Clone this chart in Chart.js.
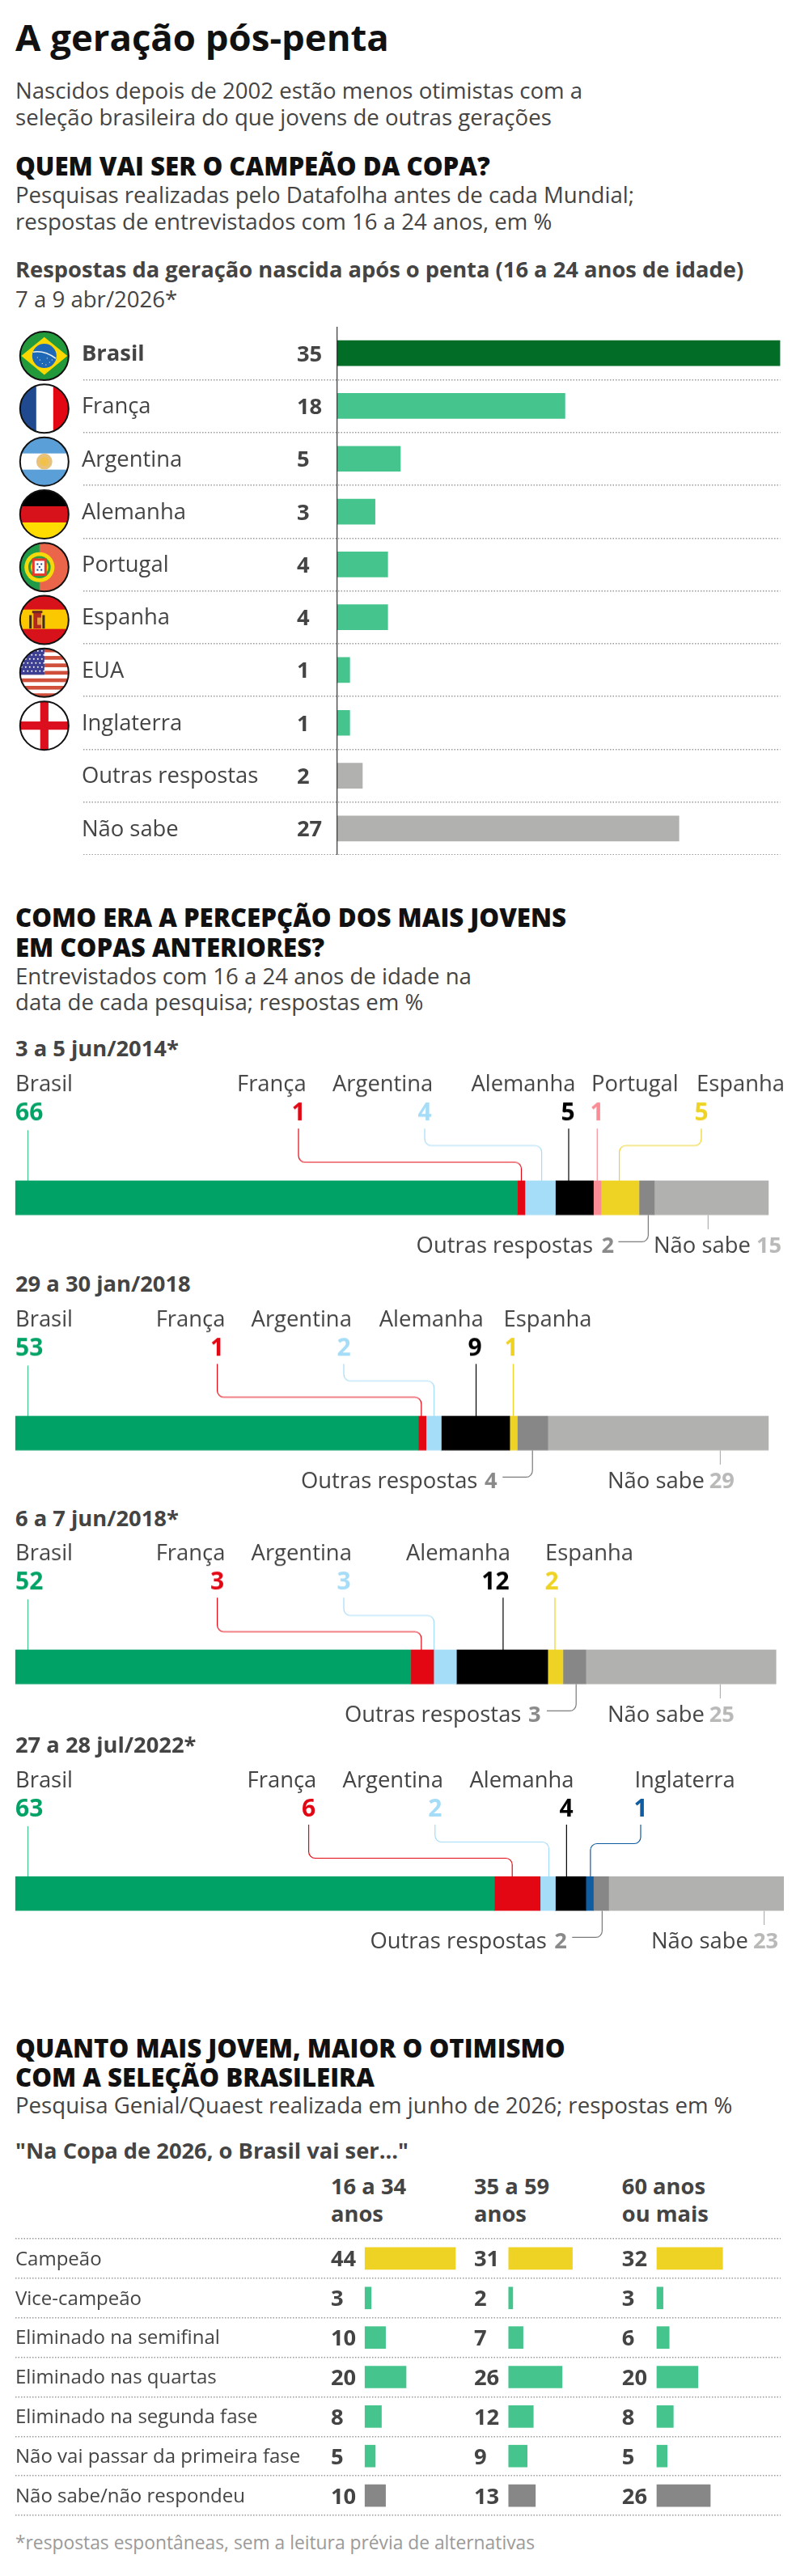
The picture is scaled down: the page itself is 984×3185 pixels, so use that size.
<!DOCTYPE html>
<html lang="pt-BR">
<head>
<meta charset="utf-8">
<title>A geração pós-penta</title>
<script src="https://cdn.jsdelivr.net/npm/chart.js@4"></script>
<style>
  html, body { margin: 0; padding: 0; background: #fff; }
  body { position: relative; width: 984px; height: 3185px; overflow: hidden; font-family: "Open Sans", sans-serif; }
  .t { position: absolute; left: 19px; white-space: nowrap; line-height: 1; color: #444; }
  .title { font-size: 45.5px; font-weight: 700; color: #111; }
  .lead { font-size: 27.6px; font-weight: 400; }
  .head { font-size: 31.2px; font-weight: 800; color: #111; }
  .sub { font-size: 27.6px; font-weight: 400; }
  .bold { font-size: 27.3px; font-weight: 700; }
  .foot { font-size: 22.8px; color: #9a9a9a; }
  canvas { position: absolute; left: 0; }
</style>
</head>
<body>
<script>
  const FONT = '"Open Sans", sans-serif';

  // Quem vai ser o campeão, 7 a 9 abr/2026
  const paises = ['Brasil', 'França', 'Argentina', 'Alemanha', 'Portugal', 'Espanha', 'EUA', 'Inglaterra', 'Outras respostas', 'Não sabe'];
  const campeao2026 = [35, 18, 5, 3, 4, 4, 1, 1, 2, 27];

  // Pesquisas anteriores
  const datas = ['3 a 5 jun/2014*', '29 a 30 jan/2018', '6 a 7 jun/2018*', '27 a 28 jul/2022*'];
  const nomes2014 = ['Brasil', 'França', 'Argentina', 'Alemanha', 'Portugal', 'Espanha', 'Outras respostas', 'Não sabe'];
  const valores2014 = [66, 1, 4, 5, 1, 5, 2, 15];
  const nomesJan2018 = ['Brasil', 'França', 'Argentina', 'Alemanha', 'Espanha', 'Outras respostas', 'Não sabe'];
  const valoresJan2018 = [53, 1, 2, 9, 1, 4, 29];
  const nomesJun2018 = ['Brasil', 'França', 'Argentina', 'Alemanha', 'Espanha', 'Outras respostas', 'Não sabe'];
  const valoresJun2018 = [52, 3, 3, 12, 2, 3, 25];
  const nomes2022 = ['Brasil', 'França', 'Argentina', 'Alemanha', 'Inglaterra', 'Outras respostas', 'Não sabe'];
  const valores2022 = [63, 6, 2, 4, 1, 2, 23];

  // Genial/Quaest, junho de 2026
  const fases = ['Campeão', 'Vice-campeão', 'Eliminado na semifinal', 'Eliminado nas quartas', 'Eliminado na segunda fase', 'Não vai passar da primeira fase', 'Não sabe/não respondeu'];
  const idade16a34 = [44, 3, 10, 20, 8, 5, 10];
  const idade35a59 = [31, 2, 7, 26, 12, 9, 13];
  const idade60mais = [32, 3, 6, 20, 8, 5, 26];

  const COR = {
    'Brasil': '#00a266', 'França': '#e30613', 'Argentina': '#a5dcf7', 'Alemanha': '#000000',
    'Portugal': '#f98c95', 'Espanha': '#efd324', 'Inglaterra': '#0f5ca0',
    'Outras respostas': '#878787', 'Não sabe': '#b1b1b0'
  };
  const COR_NUM = { ...COR, 'Outras respostas': '#8a8a8a', 'Não sabe': '#b9b9b8' };
  const VERDE_ESCURO = '#026d27', VERDE_CLARO = '#45c58d', CINZA = '#b1b1b0', CINZA_ESCURO = '#878787', AMARELO = '#efd324';
  const TEXTO = '#444444';
  const PONTILHADO = '#9c9c9c';

  function addText(cls, str, baseline, left) {
    const el = document.createElement('div');
    el.className = 't ' + cls;
    el.textContent = str;
    document.body.appendChild(el);
    // com line-height 1 a linha de base do Open Sans fica a .888 em do topo da caixa
    const fs = parseFloat(getComputedStyle(el).fontSize);
    el.style.top = (baseline - fs * 0.888) + 'px';
    if (left !== undefined) el.style.left = left + 'px';
    return el;
  }

  function addCanvas(top, height) {
    const wrap = document.createElement('div');
    wrap.style.cssText = `position:absolute;left:0;top:${top}px;width:984px;height:${height}px`;
    const c = document.createElement('canvas');
    wrap.appendChild(c);
    document.body.appendChild(wrap);
    return c.getContext('2d');
  }

  // os rótulos espelhados ficam dentro da área, então o eixo não precisa de folga
  function semFolga(scale) {
    scale.paddingTop = 0;
    scale.paddingBottom = 0;
  }

  addText('title', 'A geração pós-penta', 63.6);
  addText('lead', 'Nascidos depois de 2002 estão menos otimistas com a', 123);
  addText('lead', 'seleção brasileira do que jovens de outras gerações', 156);
  addText('head', 'QUEM VAI SER O CAMPEÃO DA COPA?', 218);
  addText('sub', 'Pesquisas realizadas pelo Datafolha antes de cada Mundial;', 252);
  addText('sub', 'respostas de entrevistados com 16 a 24 anos, em %', 285);
  addText('bold', 'Respostas da geração nascida após o penta (16 a 24 anos de idade)', 343);
  addText('sub', '7 a 9 abr/2026*', 381);
  addText('head', 'COMO ERA A PERCEPÇÃO DOS MAIS JOVENS', 1147);
  addText('head', 'EM COPAS ANTERIORES?', 1184);
  addText('sub', 'Entrevistados com 16 a 24 anos de idade na', 1217.6);
  addText('sub', 'data de cada pesquisa; respostas em %', 1250);
  addText('head', 'QUANTO MAIS JOVEM, MAIOR O OTIMISMO', 2544.3);
  addText('head', 'COM A SELEÇÃO BRASILEIRA', 2581);
  addText('sub', 'Pesquisa Genial/Quaest realizada em junho de 2026; respostas em %', 2614);
  addText('bold', '"Na Copa de 2026, o Brasil vai ser..."', 2669.7);
  addText('bold', '16 a 34', 2713, 409);
  addText('bold', 'anos', 2747, 409);
  addText('bold', '35 a 59', 2713, 586);
  addText('bold', 'anos', 2747, 586);
  addText('bold', '60 anos', 2713, 768.8);
  addText('bold', 'ou mais', 2747, 768.8);
  addText('foot', '*respostas espontâneas, sem a leitura prévia de alternativas', 3153.6);

  // Bandeiras redondas, desenhadas com canvas
  function flagBrasil(c, r) {
    c.fillStyle = '#229a3c'; c.fillRect(-r, -r, 2 * r, 2 * r);
    c.fillStyle = '#fbd800'; c.beginPath(); c.moveTo(0, -r * .78); c.lineTo(r * .95, 0); c.lineTo(0, r * .78); c.lineTo(-r * .95, 0); c.fill();
    c.fillStyle = '#1f68b5'; c.beginPath(); c.arc(0, 0, r * .5, 0, 7); c.fill();
    c.strokeStyle = '#e8f0f4'; c.lineWidth = 1.6;
    c.beginPath(); c.moveTo(-r * .47, -r * .16); c.quadraticCurveTo(0, -r * .24, r * .47, r * .1); c.stroke();
    c.fillStyle = '#fff';
    [[-.2, .15], [-.1, .3], [.1, .08], [.2, .25], [.05, .35], [.3, .15], [-.3, .05]].forEach(([a, b]) => c.fillRect(a * r, b * r, 1, 1));
  }
  function flagFranca(c, r) {
    c.fillStyle = '#1f4a8f'; c.fillRect(-r, -r, 2 * r / 3 + 1, 2 * r);
    c.fillStyle = '#fff'; c.fillRect(-r / 3, -r, 2 * r / 3 + 1, 2 * r);
    c.fillStyle = '#e30613'; c.fillRect(r / 3 + 1, -r, 2 * r / 3, 2 * r);
  }
  function flagArgentina(c, r) {
    c.fillStyle = '#5a9fd8'; c.fillRect(-r, -r, 2 * r, 2 * r);
    c.fillStyle = '#fff'; c.fillRect(-r, -r / 3, 2 * r, 2 * r / 3);
    c.fillStyle = '#e8c27a'; c.beginPath(); c.arc(0, 0, r * .33, 0, 7); c.fill();
    c.fillStyle = '#f2c14a'; c.beginPath(); c.arc(0, 0, r * .18, 0, 7); c.fill();
  }
  function flagAlemanha(c, r) {
    c.fillStyle = '#000'; c.fillRect(-r, -r, 2 * r, 2 * r / 3 + 1);
    c.fillStyle = '#d8121a'; c.fillRect(-r, -r / 3, 2 * r, 2 * r / 3 + 1);
    c.fillStyle = '#ffdc00'; c.fillRect(-r, r / 3, 2 * r, 2 * r / 3);
  }
  function flagPortugal(c, r) {
    c.fillStyle = '#ea6549'; c.fillRect(-r, -r, 2 * r, 2 * r);
    c.fillStyle = '#1f9a47'; c.fillRect(-r, -r, r * .8, 2 * r);
    c.fillStyle = '#f5d90a'; c.beginPath(); c.arc(-r * .2, 0, r * .62, 0, 7); c.fill();
    c.fillStyle = '#2a9a45'; c.beginPath(); c.arc(-r * .2, 0, r * .46, 0, 7); c.fill();
    c.fillStyle = '#f5d90a'; c.beginPath(); c.arc(-r * .2, 0, r * .36, 0, 7); c.fill();
    c.fillStyle = '#e5392a'; c.fillRect(-r * .5, -r * .36, r * .6, r * .72);
    c.fillStyle = '#fff'; c.fillRect(-r * .4, -r * .26, r * .4, r * .52);
    c.fillStyle = '#1f4a8f';
    [[-.28, -.16], [-.12, -.16], [-.2, -.04], [-.28, .08], [-.12, .08]].forEach(([a, b]) => c.fillRect(a * r - 1, b * r, 2, 2));
  }
  function flagEspanha(c, r) {
    c.fillStyle = '#d8121a'; c.fillRect(-r, -r, 2 * r, 2 * r);
    c.fillStyle = '#fbc800'; c.fillRect(-r, -r * .43, 2 * r, r * .8);
    c.fillStyle = '#3d2a1c'; c.fillRect(-r * .62, -r * .2, r * .1, r * .55); c.fillRect(-r * .08, -r * .2, r * .1, r * .55);
    c.fillStyle = '#b3281e'; c.fillRect(-r * .45, -r * .3, r * .32, r * .65);
    c.fillStyle = '#e8a13a'; c.fillRect(-r * .29, -r * .1, r * .16, r * .3);
    c.fillStyle = '#6a2a20'; c.fillRect(-r * .5, -r * .38, r * .42, r * .1);
  }
  function flagEua(c, r) {
    c.fillStyle = '#fff'; c.fillRect(-r, -r, 2 * r, 2 * r);
    c.fillStyle = '#d0503c';
    for (let i = 0; i < 7; i++) c.fillRect(-r, -r + i * 4 * r / 13, 2 * r, 2 * r / 13);
    c.fillStyle = '#3d3f92'; c.fillRect(-r, -r, r, r * 1.08);
    c.fillStyle = '#fff';
    for (let l = 0; l < 6; l++) {
      for (let k = 0; k < 6; k++) {
        c.beginPath();
        c.arc(-r + (k + (l % 2 ? .9 : .4)) * r / 6, -r + (l + .6) * r / 6, 1, 0, 7);
        c.fill();
      }
    }
  }
  function flagInglaterra(c, r) {
    c.fillStyle = '#fff'; c.fillRect(-r, -r, 2 * r, 2 * r);
    c.fillStyle = '#dc0f1e';
    c.fillRect(-r * .17, -r, r * .34, 2 * r);
    c.fillRect(-r, -r * .17, 2 * r, r * .34);
  }
  const bandeiras = [flagBrasil, flagFranca, flagArgentina, flagAlemanha, flagPortugal, flagEspanha, flagEua, flagInglaterra];

  const bandeirasPlugin = {
    id: 'bandeiras',
    afterDraw(chart) {
      const { ctx, scales: { x, y }, chartArea } = chart;
      // eixo vertical no zero
      ctx.save();
      ctx.strokeStyle = '#333';
      ctx.lineWidth = 1.2;
      ctx.beginPath();
      ctx.moveTo(x.getPixelForValue(0), chartArea.top);
      ctx.lineTo(x.getPixelForValue(0), chartArea.bottom);
      ctx.stroke();
      // valores e bandeiras de cada linha
      paises.forEach((nome, i) => {
        const cy = y.getPixelForValue(i);
        ctx.font = `700 27.3px ${FONT}`;
        ctx.fillStyle = TEXTO;
        ctx.textBaseline = 'alphabetic';
        ctx.fillText(campeao2026[i], 367, cy + 10);
        if (bandeiras[i]) {
          ctx.save();
          ctx.translate(54.8, cy + 3.4);
          ctx.beginPath();
          ctx.arc(0, 0, 30, 0, Math.PI * 2);
          ctx.clip();
          bandeiras[i](ctx, 30);
          ctx.restore();
          ctx.beginPath();
          ctx.arc(54.8, cy + 3.4, 30, 0, Math.PI * 2);
          ctx.lineWidth = 2;
          ctx.strokeStyle = '#111';
          ctx.stroke();
        }
      });
      ctx.restore();
    }
  };

  new Chart(addCanvas(404, 653), {
    type: 'bar',
    plugins: [bandeirasPlugin],
    data: {
      labels: paises,
      datasets: [{
        data: campeao2026,
        barThickness: 31,
        backgroundColor: paises.map((p, i) => i === 0 ? VERDE_ESCURO : i >= 8 ? CINZA : VERDE_CLARO)
      }]
    },
    options: {
      indexAxis: 'y',
      animation: false,
      responsive: true,
      maintainAspectRatio: false,
      layout: { autoPadding: false, padding: { left: 103, right: 19.5 } },
      plugins: { legend: { display: false }, tooltip: { enabled: false } },
      scales: {
        x: { display: false, min: -20.04, max: 35 },
        y: {
          afterFit: semFolga,
          border: { display: false, dash: [1.5, 2] },
          grid: {
            offset: true,
            drawTicks: false,
            lineWidth: 1.4,
            color: ctx => (ctx.index === 0 || ctx.index === paises.length) ? 'transparent' : PONTILHADO
          },
          ticks: {
            mirror: true,
            padding: -0.7,
            labelOffset: 1.5,
            color: TEXTO,
            font: ctx => ({ family: FONT, size: 27.4, weight: ctx.index === 0 ? '700' : '400' })
          }
        }
      }
    }
  });

  // Posições de rótulos e linhas-guia de cada pesquisa
  // n: x do nome, v: x do número, a: ancoragem dentro do segmento, e: altura do cotovelo, to: fim da guia inferior
  const guiasPesquisa = [
    { top: 1459, itens: [
      { n: 19, v: 19, a: 1.67 },
      { n: 293, v: 369, a: .53, e: -22.5 },
      { n: 411, v: 525, a: 2.2, e: -43 },
      { n: 582.4, v: 702, a: 1.75 },
      { n: 731, v: 738, a: .5 },
      { n: 861, v: 867, a: 2.41, e: -43 },
      { n: 514.6, v: 743.6, a: 1.21, to: 764.4 },
      { n: 808, v: 935, a: 7.08 }
    ] },
    { top: 1750, itens: [
      { n: 19, v: 19, a: 1.67 },
      { n: 192.7, v: 268.6, a: .38, e: -23 },
      { n: 310.6, v: 425, a: 1.05, e: -43 },
      { n: 468.8, v: 587, a: 4.58 },
      { n: 622.5, v: 632, a: .46 },
      { n: 372, v: 599, a: 1.99, to: 621.3 },
      { n: 751, v: 876.7, a: 22.68 }
    ] },
    { top: 2039.4, itens: [
      { n: 19, v: 19, a: 1.67 },
      { n: 192.7, v: 268.6, a: 1.38, e: -22 },
      { n: 310.6, v: 425, a: .05, e: -42 },
      { n: 502, v: 612.5, a: 6.13 },
      { n: 674, v: 682, a: .94 },
      { n: 426, v: 653, a: 1.73, to: 675.9 },
      { n: 751, v: 876.7, a: 17.68 }
    ] },
    { top: 2319.7, itens: [
      { n: 19, v: 19, a: 1.67 },
      { n: 305.6, v: 381.6, a: 2.33, e: -22.5 },
      { n: 423.6, v: 537.8, a: 1.14, e: -42.5 },
      { n: 580.5, v: 700, a: 1.47 },
      { n: 784.4, v: 792, a: .61, e: -40.5 },
      { n: 457.5, v: 685.3, a: 1.15, to: 707.3 },
      { n: 805, v: 931, a: 20.44 }
    ] }
  ];

  const LINHA_TOPO = -64;
  const CANVAS_ACIMA = 140, CANVAS_ABAIXO = 60, BARRA_ALT = 42.6;

  const guiasPlugin = {
    id: 'guias',
    afterDraw(chart, args, opts) {
      const { ctx, scales: { x } } = chart;
      const top = chart.chartArea.top;
      const { nomes, valores, itens } = opts;
      let acum = 0;
      ctx.save();
      ctx.textBaseline = 'alphabetic';
      nomes.forEach((nome, i) => {
        const it = itens[i];
        const ax = x.getPixelForValue(acum + it.a);
        acum += valores[i];
        const embaixo = nome === 'Outras respostas' || nome === 'Não sabe';
        ctx.lineWidth = 1.2;
        ctx.strokeStyle = nome === 'Brasil' ? VERDE_CLARO : nome === 'Outras respostas' ? '#7a7a7a' : COR[nome];
        ctx.beginPath();
        if (embaixo) {
          const y0 = top + BARRA_ALT;
          if (it.to) {
            const r = 8, yy = top + 75.4;
            ctx.moveTo(ax, y0);
            ctx.arcTo(ax, yy, it.to, yy, r);
            ctx.lineTo(it.to, yy);
          } else {
            ctx.moveTo(ax, y0);
            ctx.lineTo(ax, top + 60);
          }
          ctx.stroke();
          ctx.font = `400 27.4px ${FONT}`;
          ctx.fillStyle = TEXTO;
          ctx.fillText(nome, it.n, top + 89);
          ctx.font = `700 27.3px ${FONT}`;
          ctx.fillStyle = COR_NUM[nome];
          ctx.fillText(valores[i], it.v, top + 89);
        } else {
          const y0 = top + LINHA_TOPO;
          if (it.e !== undefined) {
            const r = 8, yy = top + it.e;
            ctx.moveTo(it.v, y0);
            ctx.arcTo(it.v, yy, ax, yy, r);
            ctx.arcTo(ax, yy, ax, top, r);
            ctx.lineTo(ax, top);
          } else {
            ctx.moveTo(ax, nome === 'Brasil' ? y0 + 2 : y0);
            ctx.lineTo(ax, top);
          }
          ctx.stroke();
          ctx.font = `400 27.4px ${FONT}`;
          ctx.fillStyle = TEXTO;
          ctx.textAlign = 'left';
          ctx.fillText(nome, it.n, top - 110);
          ctx.font = `700 30px ${FONT}`;
          ctx.fillStyle = COR[nome];
          ctx.textAlign = nome === 'Brasil' ? 'left' : 'center';
          ctx.fillText(valores[i], it.v, top - 74.5);
          ctx.textAlign = 'left';
        }
      });
      ctx.restore();
    }
  };

  [[nomes2014, valores2014], [nomesJan2018, valoresJan2018], [nomesJun2018, valoresJun2018], [nomes2022, valores2022]].forEach(([nomes, valores], i) => {
    const g = guiasPesquisa[i];
    addText('bold', datas[i], g.top - 152.6);
    new Chart(addCanvas(g.top - CANVAS_ACIMA, CANVAS_ACIMA + BARRA_ALT + CANVAS_ABAIXO), {
      type: 'bar',
      plugins: [guiasPlugin],
      data: {
        labels: [datas[i]],
        datasets: nomes.map((nome, j) => ({
          label: nome,
          data: [valores[j]],
          backgroundColor: COR[nome],
          barThickness: BARRA_ALT
        }))
      },
      options: {
        indexAxis: 'y',
        animation: false,
        responsive: true,
        maintainAspectRatio: false,
        layout: { padding: { left: 18.8, right: 0, top: CANVAS_ACIMA, bottom: CANVAS_ABAIXO } },
        plugins: {
          legend: { display: false },
          tooltip: { enabled: false },
          guias: { nomes, valores, itens: g.itens }
        },
        scales: {
          x: { display: false, stacked: true, min: 0, max: 102.63 },
          y: { display: false, stacked: true }
        }
      }
    });
  });

  // Tabela por faixa etária: três eixos x sobre a mesma área
  const PX_POR_PONTO = 2.54;
  const colunas = [
    { id: 'x1', dados: idade16a34, rotulo: 409, zero: 451.2 },
    { id: 'x2', dados: idade35a59, rotulo: 586, zero: 628.8 },
    { id: 'x3', dados: idade60mais, rotulo: 768.8, zero: 812 }
  ];
  const AREA_ESQ = 19, AREA_DIR = 965;

  const numerosPlugin = {
    id: 'numeros',
    afterDraw(chart) {
      const { ctx, scales: { y } } = chart;
      ctx.save();
      ctx.font = `700 27.3px ${FONT}`;
      ctx.fillStyle = TEXTO;
      ctx.textBaseline = 'alphabetic';
      colunas.forEach(col => col.dados.forEach((v, i) => ctx.fillText(v, col.rotulo, y.getPixelForValue(i) + 10)));
      ctx.restore();
    }
  };

  const corFase = fases.map((f, i) => i === 0 ? AMARELO : i === fases.length - 1 ? CINZA_ESCURO : VERDE_CLARO);
  const eixosFase = { y: {
    afterFit: semFolga,
    border: { display: false, dash: [1.5, 2] },
    grid: { offset: true, drawTicks: false, lineWidth: 1.4, color: PONTILHADO },
    ticks: { mirror: true, padding: 0, labelOffset: 1.5, color: TEXTO, font: { family: FONT, size: 24 } }
  } };
  colunas.forEach(col => {
    eixosFase[col.id] = {
      display: false,
      axis: 'x',
      min: (AREA_ESQ - col.zero) / PX_POR_PONTO,
      max: (AREA_DIR - col.zero) / PX_POR_PONTO
    };
  });

  new Chart(addCanvas(2767, 344), {
    type: 'bar',
    plugins: [numerosPlugin],
    data: {
      labels: fases,
      datasets: colunas.map(col => ({
        data: col.dados,
        xAxisID: col.id,
        grouped: false,
        barThickness: 27,
        backgroundColor: corFase
      }))
    },
    options: {
      indexAxis: 'y',
      animation: false,
      responsive: true,
      maintainAspectRatio: false,
      layout: { autoPadding: false, padding: { left: AREA_ESQ, right: 984 - AREA_DIR, top: 1, bottom: 1 } },
      plugins: { legend: { display: false }, tooltip: { enabled: false } },
      scales: eixosFase
    }
  });
</script>
</body>
</html>
